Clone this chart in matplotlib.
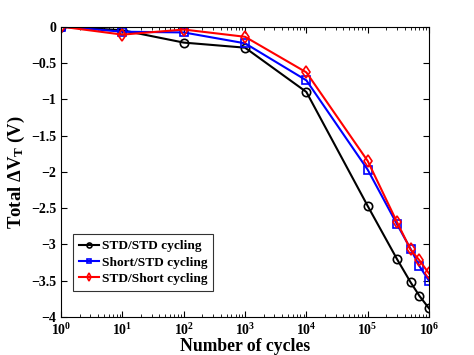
import numpy as np
import matplotlib
matplotlib.use('Agg')
import matplotlib.pyplot as plt
from matplotlib.ticker import LogLocator, FixedLocator

# data
cycles = [1, 1e1, 1e2, 1e3, 1e4, 1e5, 3e5, 5e5, 7e5, 1e6]
std_std = [0, -0.05, -0.22, -0.29, -0.90, -2.47, -3.20, -3.52, -3.71, -3.88]
short_std = [0, -0.07, -0.08, -0.23, -0.74, -1.97, -2.72, -3.06, -3.30, -3.50]
std_short = [0, -0.11, -0.04, -0.14, -0.63, -1.85, -2.69, -3.07, -3.22, -3.40]
labels = ['STD/STD cycling', 'Short/STD cycling', 'STD/Short cycling']

plt.rcParams['font.family'] = ['Liberation Serif', 'DejaVu Serif']
plt.rcParams['font.weight'] = 'bold'
plt.rcParams['mathtext.fontset'] = 'custom'
plt.rcParams['mathtext.rm'] = 'Liberation Serif:bold'
plt.rcParams['mathtext.it'] = 'Liberation Serif:bold'
plt.rcParams['mathtext.bf'] = 'Liberation Serif:bold'

fig = plt.figure(figsize=(4.74, 3.55), dpi=100)
ax = fig.add_axes([0.129, 0.107, 0.776, 0.818])

ax.plot(cycles, std_std, '-o', color='black', lw=1.5, ms=6, mfc='none', mew=1.2, label=labels[0])
ax.plot(cycles, short_std, '-s', color='blue', lw=1.5, ms=5.5, mfc='none', mew=1.2, label=labels[1])
ax.plot(cycles, std_short, '-d', color='red', lw=1.5, ms=6.5, mfc='none', mew=1.2, label=labels[2])

ax.set_xscale('log')
ax.set_xlim(1, 1e6)
ax.set_ylim(-4, 0)
ax.yaxis.set_major_locator(FixedLocator([-4, -3.5, -3, -2.5, -2, -1.5, -1, -0.5, 0]))
ax.set_yticklabels(['\u22124', '\u22123.5', '\u22123', '\u22122.5', '\u22122', '\u22121.5', '\u22121', '\u22120.5', '0'])
ax.xaxis.set_major_locator(LogLocator(base=10, numticks=10))
ax.xaxis.set_minor_locator(LogLocator(base=10, subs=np.arange(2, 10), numticks=20))
ax.xaxis.set_minor_formatter(plt.NullFormatter())

ax.tick_params(which='both', direction='in', top=True, right=True, labelsize=10)
ax.tick_params(which='major', length=4)
ax.tick_params(which='minor', length=2)
for lab in ax.get_xticklabels() + ax.get_yticklabels():
    lab.set_fontweight('bold')

ax.set_xlabel('Number of cycles', fontsize=12.7, fontweight='bold', labelpad=0)
ax.set_ylabel(r'Total $\Delta$V$_\mathrm{T}$ (V)', fontsize=13.5, fontweight='bold', labelpad=3)

leg = ax.legend(loc='lower left', bbox_to_anchor=(0.033, 0.09), fontsize=9.6, frameon=True,
                fancybox=False, edgecolor='black', handlelength=1.5, handletextpad=0.2,
                borderpad=0.45, labelspacing=0.3, borderaxespad=0, markerscale=0.6)
leg.get_frame().set_linewidth(0.8)
for t in leg.get_texts():
    t.set_fontweight('bold')

fig.savefig('out.png', dpi=100)
